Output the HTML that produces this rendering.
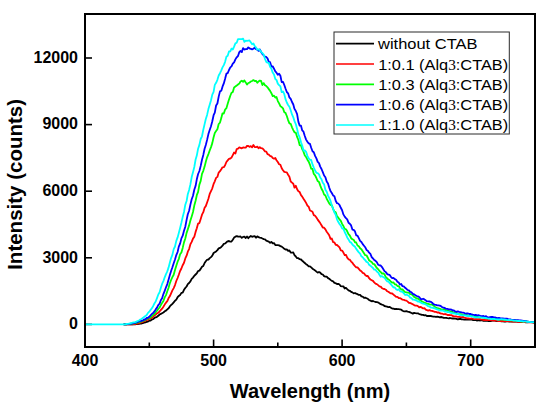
<!DOCTYPE html>
<html><head><meta charset="utf-8"><style>
html,body{margin:0;padding:0;background:#fff;}
body{width:550px;height:409px;overflow:hidden;position:relative;}
svg{position:absolute;left:0;top:0;}
text{font-family:"Liberation Sans",sans-serif;fill:#000;}
</style></head><body>
<svg width="550" height="409" viewBox="0 0 550 409">
<g stroke="#000" stroke-width="1.6" fill="none">
<line x1="86" y1="324.4" x2="92" y2="324.4"/>
<line x1="86" y1="257.8" x2="92" y2="257.8"/>
<line x1="86" y1="191.2" x2="92" y2="191.2"/>
<line x1="86" y1="124.6" x2="92" y2="124.6"/>
<line x1="86" y1="58.0" x2="92" y2="58.0"/>
<line x1="213.6" y1="346" x2="213.6" y2="339.5"/>
<line x1="342.1" y1="346" x2="342.1" y2="339.5"/>
<line x1="470.7" y1="346" x2="470.7" y2="339.5"/>
<line x1="149.3" y1="346" x2="149.3" y2="342.5"/>
<line x1="277.8" y1="346" x2="277.8" y2="342.5"/>
<line x1="406.4" y1="346" x2="406.4" y2="342.5"/>
</g>
<g fill="none" stroke-width="1.8" stroke-linejoin="round" stroke-linecap="butt">
<path d="M123.6,324.4 124.9,324.4 126.1,324.4 127.4,324.4 128.7,324.4 130.0,324.4 131.3,324.4 132.6,324.4 133.8,324.4 135.1,324.4 136.4,324.2 137.7,324.0 139.0,323.9 140.3,323.7 141.6,323.5 142.8,323.1 144.1,322.7 145.4,322.3 146.7,321.9 148.0,321.6 149.3,320.7 150.6,320.5 151.8,319.5 153.1,319.2 154.4,318.0 155.7,317.3 157.0,316.8 158.3,315.8 159.6,314.5 160.8,313.9 162.1,313.2 163.4,312.5 164.7,311.3 166.0,310.6 167.3,309.4 168.6,308.3 169.8,306.4 171.1,305.0 172.4,303.8 173.7,302.4 175.0,300.7 176.3,299.6 177.6,297.2 178.8,296.0 180.1,295.1 181.4,292.9 182.7,292.7 184.0,289.8 185.3,287.9 186.6,286.5 187.8,284.2 189.1,283.0 190.4,281.4 191.7,278.8 193.0,277.6 194.3,275.8 195.6,274.5 196.8,273.3 198.1,271.0 199.4,270.6 200.7,268.9 202.0,266.7 203.3,265.9 204.6,263.0 205.8,261.3 207.1,259.7 208.4,259.6 209.7,258.1 211.0,257.1 212.3,255.7 213.6,253.0 214.8,252.2 216.1,251.4 217.4,250.1 218.7,248.4 220.0,247.9 221.3,247.0 222.5,245.7 223.8,243.9 225.1,243.5 226.4,242.3 227.7,241.3 229.0,241.0 230.3,241.7 231.5,241.5 232.8,239.8 234.1,237.6 235.4,236.7 236.7,236.2 238.0,236.5 239.3,236.7 240.5,236.5 241.8,237.9 243.1,236.9 244.4,236.7 245.7,238.0 247.0,236.5 248.3,238.2 249.5,236.9 250.8,236.0 252.1,236.8 253.4,236.4 254.7,236.1 256.0,237.7 257.3,236.4 258.5,237.1 259.8,237.6 261.1,237.8 262.4,238.5 263.7,239.1 265.0,239.3 266.3,240.7 267.5,241.2 268.8,241.7 270.1,242.9 271.4,241.9 272.7,243.3 274.0,243.1 275.3,245.0 276.5,245.2 277.8,245.2 279.1,245.4 280.4,246.1 281.7,246.6 283.0,247.6 284.3,248.8 285.5,249.6 286.8,249.4 288.1,250.8 289.4,250.5 290.7,252.5 292.0,252.7 293.3,252.5 294.5,255.2 295.8,256.5 297.1,258.2 298.4,258.2 299.7,259.2 301.0,259.5 302.2,260.7 303.5,261.8 304.8,263.0 306.1,264.2 307.4,265.1 308.7,266.3 310.0,266.4 311.2,267.4 312.5,268.7 313.8,269.6 315.1,270.4 316.4,271.6 317.7,272.6 319.0,272.0 320.2,272.6 321.5,274.1 322.8,274.5 324.1,276.1 325.4,276.7 326.7,276.7 328.0,278.1 329.2,278.8 330.5,279.9 331.8,280.9 333.1,281.3 334.4,282.9 335.7,283.2 337.0,284.1 338.2,283.8 339.5,284.5 340.8,286.2 342.1,286.3 343.4,286.3 344.7,288.5 346.0,287.9 347.2,289.1 348.5,290.3 349.8,290.8 351.1,291.9 352.4,292.4 353.7,293.4 355.0,293.0 356.2,293.7 357.5,294.2 358.8,294.9 360.1,294.8 361.4,296.4 362.7,296.7 364.0,297.9 365.2,297.6 366.5,298.2 367.8,298.8 369.1,300.0 370.4,300.6 371.7,301.3 373.0,301.0 374.2,301.5 375.5,302.0 376.8,302.2 378.1,302.4 379.4,303.2 380.7,304.2 382.0,304.7 383.2,305.0 384.5,306.0 385.8,306.3 387.1,306.6 388.4,307.2 389.7,306.9 390.9,307.8 392.2,308.6 393.5,308.6 394.8,309.1 396.1,308.8 397.4,309.2 398.7,309.2 399.9,309.3 401.2,309.6 402.5,310.7 403.8,311.3 405.1,311.4 406.4,311.2 407.7,311.6 408.9,311.9 410.2,312.4 411.5,313.0 412.8,313.6 414.1,312.9 415.4,313.2 416.7,313.3 417.9,313.3 419.2,314.1 420.5,314.3 421.8,314.8 423.1,314.8 424.4,315.3 425.7,315.1 426.9,316.0 428.2,315.9 429.5,316.0 430.8,316.0 432.1,316.3 433.4,316.6 434.7,316.6 435.9,316.9 437.2,316.7 438.5,316.9 439.8,317.3 441.1,317.0 442.4,317.3 443.7,317.8 444.9,317.8 446.2,317.9 447.5,318.2 448.8,318.3 450.1,318.0 451.4,318.4 452.7,318.5 453.9,318.5 455.2,318.6 456.5,318.8 457.8,319.3 459.1,319.0 460.4,318.9 461.7,319.4 462.9,319.4 464.2,319.6 465.5,319.5 466.8,319.7 468.1,319.6 469.4,319.7 470.7,319.5 471.9,319.7 473.2,320.2 474.5,320.2 475.8,320.2 477.1,320.5 478.4,320.2 479.6,320.5 480.9,320.3 482.2,320.4 483.5,320.8 484.8,320.8 486.1,320.8 487.4,320.9 488.6,321.1 489.9,320.8 491.2,321.0 492.5,320.6 493.8,320.6 495.1,320.6 496.4,321.1 497.6,321.0 498.9,321.1 500.2,321.2 501.5,321.3 502.8,321.2 504.1,321.5 505.4,321.6 506.6,321.4 507.9,321.4 509.2,321.5 510.5,321.7 511.8,321.4 513.1,321.7 514.4,321.6 515.6,321.7 516.9,321.6 518.2,321.9 519.5,321.9 520.8,321.7 522.1,321.8 523.4,322.2 524.6,322.1 525.9,322.3 527.2,322.4 528.5,322.1 529.8,322.2 531.1,322.2 532.4,322.4 533.6,322.5 534.9,322.6" stroke="#000000"/>
<path d="M123.6,324.4 124.9,324.4 126.1,324.4 127.4,324.4 128.7,324.4 130.0,324.4 131.3,324.4 132.6,324.3 133.8,324.2 135.1,324.0 136.4,323.7 137.7,323.5 139.0,323.2 140.3,322.6 141.6,322.3 142.8,321.9 144.1,321.3 145.4,320.7 146.7,320.1 148.0,319.7 149.3,318.7 150.6,318.4 151.8,317.9 153.1,316.9 154.4,315.4 155.7,314.5 157.0,313.4 158.3,312.8 159.6,311.3 160.8,310.0 162.1,308.7 163.4,306.8 164.7,304.6 166.0,302.7 167.3,301.2 168.6,298.1 169.8,296.3 171.1,293.3 172.4,290.4 173.7,288.1 175.0,285.1 176.3,281.0 177.6,278.0 178.8,274.8 180.1,271.0 181.4,268.5 182.7,265.2 184.0,262.8 185.3,258.4 186.6,255.7 187.8,251.7 189.1,249.1 190.4,244.2 191.7,241.9 193.0,238.6 194.3,236.8 195.6,231.9 196.8,228.2 198.1,223.6 199.4,223.1 200.7,218.9 202.0,214.7 203.3,212.2 204.6,207.7 205.8,206.1 207.1,202.5 208.4,198.7 209.7,193.9 211.0,191.1 212.3,188.3 213.6,183.9 214.8,181.3 216.1,177.9 217.4,176.9 218.7,172.6 220.0,171.2 221.3,169.3 222.5,167.3 223.8,167.2 225.1,165.2 226.4,162.0 227.7,160.4 229.0,158.8 230.3,158.5 231.5,157.6 232.8,155.1 234.1,152.5 235.4,153.5 236.7,149.1 238.0,148.7 239.3,147.4 240.5,147.8 241.8,148.3 243.1,147.4 244.4,147.7 245.7,147.7 247.0,145.9 248.3,146.0 249.5,146.9 250.8,146.1 252.1,147.4 253.4,145.0 254.7,147.0 256.0,147.2 257.3,146.6 258.5,148.3 259.8,147.1 261.1,148.2 262.4,148.4 263.7,149.7 265.0,151.4 266.3,151.6 267.5,154.2 268.8,154.6 270.1,156.0 271.4,156.3 272.7,158.0 274.0,158.7 275.3,158.0 276.5,160.2 277.8,162.0 279.1,164.2 280.4,164.8 281.7,168.2 283.0,170.3 284.3,171.9 285.5,172.2 286.8,172.4 288.1,174.8 289.4,176.8 290.7,181.5 292.0,182.6 293.3,183.7 294.5,187.7 295.8,185.8 297.1,189.3 298.4,191.3 299.7,192.1 301.0,195.2 302.2,196.6 303.5,198.8 304.8,200.8 306.1,202.9 307.4,205.6 308.7,206.7 310.0,210.5 311.2,211.0 312.5,211.7 313.8,215.1 315.1,215.8 316.4,217.5 317.7,219.6 319.0,221.4 320.2,223.1 321.5,225.2 322.8,227.5 324.1,227.7 325.4,229.4 326.7,231.8 328.0,233.5 329.2,235.3 330.5,238.9 331.8,238.5 333.1,242.1 334.4,242.4 335.7,244.8 337.0,245.0 338.2,246.1 339.5,247.4 340.8,250.3 342.1,250.6 343.4,252.6 344.7,255.2 346.0,254.9 347.2,257.6 348.5,259.3 349.8,259.7 351.1,261.6 352.4,262.7 353.7,264.7 355.0,266.1 356.2,267.3 357.5,267.4 358.8,268.9 360.1,270.4 361.4,271.3 362.7,272.9 364.0,273.3 365.2,275.1 366.5,276.0 367.8,276.0 369.1,278.2 370.4,279.5 371.7,280.2 373.0,280.9 374.2,282.4 375.5,283.6 376.8,284.1 378.1,285.1 379.4,286.3 380.7,286.7 382.0,288.2 383.2,288.8 384.5,289.0 385.8,289.7 387.1,291.2 388.4,291.8 389.7,292.7 390.9,293.4 392.2,293.5 393.5,294.6 394.8,295.7 396.1,296.9 397.4,296.8 398.7,298.0 399.9,298.1 401.2,298.8 402.5,299.7 403.8,299.8 405.1,300.4 406.4,300.6 407.7,301.6 408.9,302.9 410.2,303.0 411.5,303.6 412.8,304.2 414.1,305.1 415.4,305.7 416.7,305.7 417.9,306.1 419.2,307.3 420.5,306.9 421.8,307.6 423.1,308.4 424.4,308.2 425.7,309.7 426.9,310.1 428.2,310.6 429.5,310.1 430.8,310.8 432.1,310.8 433.4,311.3 434.7,311.9 435.9,311.9 437.2,312.5 438.5,312.3 439.8,313.2 441.1,313.7 442.4,313.7 443.7,314.3 444.9,314.0 446.2,314.3 447.5,315.1 448.8,314.9 450.1,315.2 451.4,315.1 452.7,316.0 453.9,316.2 455.2,316.3 456.5,316.5 457.8,316.9 459.1,316.9 460.4,317.1 461.7,317.2 462.9,316.9 464.2,317.5 465.5,318.0 466.8,318.3 468.1,318.3 469.4,318.6 470.7,318.7 471.9,318.5 473.2,318.9 474.5,319.1 475.8,319.0 477.1,319.2 478.4,319.2 479.6,319.1 480.9,319.4 482.2,319.6 483.5,320.0 484.8,319.9 486.1,320.1 487.4,319.9 488.6,320.2 489.9,320.1 491.2,320.3 492.5,320.4 493.8,320.5 495.1,320.7 496.4,320.6 497.6,320.8 498.9,321.2 500.2,321.2 501.5,321.0 502.8,320.9 504.1,321.1 505.4,321.2 506.6,321.1 507.9,321.2 509.2,321.2 510.5,321.2 511.8,321.3 513.1,321.6 514.4,321.4 515.6,321.5 516.9,321.5 518.2,321.8 519.5,321.9 520.8,321.9 522.1,321.9 523.4,322.2 524.6,322.1 525.9,322.2 527.2,322.2 528.5,322.3 529.8,322.3 531.1,322.3 532.4,322.4 533.6,322.3 534.9,322.4" stroke="#ff0000"/>
<path d="M123.6,324.4 124.9,324.4 126.1,324.3 127.4,324.2 128.7,324.1 130.0,324.0 131.3,323.8 132.6,323.6 133.8,323.3 135.1,323.0 136.4,323.0 137.7,322.5 139.0,322.1 140.3,321.8 141.6,321.4 142.8,321.0 144.1,320.3 145.4,319.8 146.7,319.1 148.0,318.5 149.3,317.9 150.6,317.4 151.8,316.1 153.1,314.9 154.4,314.1 155.7,312.3 157.0,310.7 158.3,308.9 159.6,307.5 160.8,305.2 162.1,302.9 163.4,301.0 164.7,297.4 166.0,295.1 167.3,291.2 168.6,287.8 169.8,283.3 171.1,280.0 172.4,277.1 173.7,274.8 175.0,270.0 176.3,265.7 177.6,261.7 178.8,259.1 180.1,254.3 181.4,252.5 182.7,247.9 184.0,242.4 185.3,238.5 186.6,232.9 187.8,229.4 189.1,225.4 190.4,220.5 191.7,216.4 193.0,212.0 194.3,205.6 195.6,200.7 196.8,195.2 198.1,191.9 199.4,184.6 200.7,180.9 202.0,173.9 203.3,170.8 204.6,166.6 205.8,161.8 207.1,157.3 208.4,154.1 209.7,150.5 211.0,147.1 212.3,143.1 213.6,137.2 214.8,133.0 216.1,131.1 217.4,129.2 218.7,124.0 220.0,122.6 221.3,118.1 222.5,113.3 223.8,113.5 225.1,109.6 226.4,108.2 227.7,103.7 229.0,99.6 230.3,95.8 231.5,92.7 232.8,92.1 234.1,87.4 235.4,86.5 236.7,85.6 238.0,84.5 239.3,83.6 240.5,81.5 241.8,80.7 243.1,81.8 244.4,80.5 245.7,82.4 247.0,84.6 248.3,83.0 249.5,82.7 250.8,81.5 252.1,81.0 253.4,80.1 254.7,81.0 256.0,80.8 257.3,82.8 258.5,81.5 259.8,80.6 261.1,80.9 262.4,85.1 263.7,83.1 265.0,85.2 266.3,86.0 267.5,87.3 268.8,89.1 270.1,90.9 271.4,93.2 272.7,96.1 274.0,95.7 275.3,97.6 276.5,97.0 277.8,101.1 279.1,103.4 280.4,106.2 281.7,107.1 283.0,108.4 284.3,112.3 285.5,112.9 286.8,116.0 288.1,120.1 289.4,123.4 290.7,123.9 292.0,127.3 293.3,130.1 294.5,132.3 295.8,132.7 297.1,136.9 298.4,140.0 299.7,145.2 301.0,145.5 302.2,149.0 303.5,151.7 304.8,155.5 306.1,157.0 307.4,159.7 308.7,161.7 310.0,164.8 311.2,168.7 312.5,169.0 313.8,173.9 315.1,175.3 316.4,178.0 317.7,181.1 319.0,181.9 320.2,185.4 321.5,188.8 322.8,191.0 324.1,194.5 325.4,195.5 326.7,198.7 328.0,201.1 329.2,203.4 330.5,204.9 331.8,205.3 333.1,208.9 334.4,211.6 335.7,212.3 337.0,216.3 338.2,217.5 339.5,219.4 340.8,220.9 342.1,223.9 343.4,226.0 344.7,228.9 346.0,229.3 347.2,231.3 348.5,234.2 349.8,235.5 351.1,238.2 352.4,239.3 353.7,239.9 355.0,242.3 356.2,242.5 357.5,245.5 358.8,246.2 360.1,248.3 361.4,249.2 362.7,251.2 364.0,253.3 365.2,255.2 366.5,255.3 367.8,257.7 369.1,260.3 370.4,261.4 371.7,262.0 373.0,263.9 374.2,264.1 375.5,265.9 376.8,267.9 378.1,269.2 379.4,270.8 380.7,272.0 382.0,273.6 383.2,273.3 384.5,274.4 385.8,277.2 387.1,278.3 388.4,279.5 389.7,280.2 390.9,281.7 392.2,282.7 393.5,282.5 394.8,284.3 396.1,284.5 397.4,286.0 398.7,286.1 399.9,288.0 401.2,289.5 402.5,289.4 403.8,291.0 405.1,292.2 406.4,292.3 407.7,292.7 408.9,292.7 410.2,294.2 411.5,294.4 412.8,295.4 414.1,296.9 415.4,297.5 416.7,298.7 417.9,298.3 419.2,299.8 420.5,300.5 421.8,301.4 423.1,302.0 424.4,302.7 425.7,303.1 426.9,303.9 428.2,303.8 429.5,304.4 430.8,304.6 432.1,304.5 433.4,305.4 434.7,306.7 435.9,307.6 437.2,308.2 438.5,308.4 439.8,308.8 441.1,309.3 442.4,309.8 443.7,309.4 444.9,309.9 446.2,310.4 447.5,310.6 448.8,311.0 450.1,311.6 451.4,311.4 452.7,312.1 453.9,312.6 455.2,312.9 456.5,313.0 457.8,313.8 459.1,314.2 460.4,314.1 461.7,314.4 462.9,315.1 464.2,315.0 465.5,315.2 466.8,315.2 468.1,315.7 469.4,315.4 470.7,315.5 471.9,315.8 473.2,315.9 474.5,316.6 475.8,316.5 477.1,316.8 478.4,317.1 479.6,317.4 480.9,317.4 482.2,317.3 483.5,317.5 484.8,317.8 486.1,317.7 487.4,318.4 488.6,318.0 489.9,318.2 491.2,318.6 492.5,318.7 493.8,319.0 495.1,318.8 496.4,318.9 497.6,319.3 498.9,319.6 500.2,319.4 501.5,319.3 502.8,319.5 504.1,319.6 505.4,319.9 506.6,320.0 507.9,320.2 509.2,320.1 510.5,320.4 511.8,320.1 513.1,320.4 514.4,320.4 515.6,320.6 516.9,320.6 518.2,320.9 519.5,320.8 520.8,321.4 522.1,321.5 523.4,321.4 524.6,321.2 525.9,321.4 527.2,321.6 528.5,321.9 529.8,321.9 531.1,322.0 532.4,322.0 533.6,322.2 534.9,322.5" stroke="#00ff00"/>
<path d="M123.6,324.4 124.9,324.4 126.1,324.3 127.4,324.1 128.7,323.9 130.0,323.8 131.3,323.6 132.6,323.5 133.8,323.1 135.1,322.9 136.4,322.3 137.7,322.0 139.0,321.5 140.3,321.1 141.6,320.8 142.8,320.5 144.1,319.5 145.4,319.3 146.7,318.0 148.0,317.8 149.3,316.8 150.6,315.3 151.8,314.0 153.1,313.1 154.4,311.4 155.7,309.4 157.0,307.6 158.3,305.0 159.6,303.6 160.8,300.3 162.1,298.2 163.4,294.1 164.7,290.8 166.0,287.3 167.3,284.1 168.6,279.4 169.8,275.3 171.1,271.0 172.4,267.3 173.7,263.2 175.0,259.5 176.3,255.1 177.6,252.0 178.8,246.6 180.1,243.6 181.4,238.4 182.7,235.7 184.0,230.7 185.3,226.7 186.6,219.9 187.8,214.2 189.1,210.7 190.4,204.6 191.7,199.2 193.0,195.8 194.3,189.7 195.6,185.8 196.8,179.3 198.1,174.0 199.4,171.0 200.7,165.9 202.0,159.7 203.3,154.9 204.6,148.8 205.8,145.0 207.1,139.9 208.4,134.1 209.7,130.0 211.0,126.3 212.3,121.3 213.6,115.2 214.8,112.6 216.1,105.5 217.4,103.5 218.7,96.6 220.0,91.4 221.3,90.8 222.5,86.7 223.8,83.4 225.1,78.8 226.4,73.7 227.7,73.2 229.0,70.0 230.3,67.4 231.5,66.4 232.8,63.6 234.1,62.3 235.4,59.4 236.7,57.3 238.0,56.0 239.3,52.1 240.5,50.9 241.8,52.1 243.1,48.1 244.4,49.5 245.7,49.2 247.0,49.1 248.3,47.4 249.5,48.3 250.8,48.8 252.1,49.4 253.4,48.8 254.7,47.7 256.0,49.1 257.3,49.6 258.5,50.8 259.8,49.4 261.1,52.0 262.4,54.1 263.7,55.3 265.0,56.7 266.3,57.0 267.5,58.3 268.8,61.9 270.1,62.2 271.4,66.5 272.7,66.3 274.0,68.7 275.3,71.4 276.5,72.7 277.8,74.7 279.1,73.8 280.4,75.8 281.7,82.1 283.0,81.8 284.3,85.0 285.5,88.5 286.8,92.0 288.1,93.3 289.4,97.4 290.7,98.9 292.0,102.0 293.3,104.5 294.5,108.9 295.8,111.0 297.1,114.1 298.4,121.9 299.7,125.6 301.0,125.7 302.2,130.4 303.5,131.7 304.8,136.0 306.1,139.6 307.4,141.7 308.7,143.4 310.0,143.9 311.2,147.8 312.5,151.2 313.8,152.2 315.1,155.9 316.4,158.4 317.7,161.9 319.0,163.1 320.2,166.6 321.5,169.0 322.8,172.1 324.1,175.5 325.4,177.2 326.7,181.5 328.0,183.4 329.2,187.5 330.5,191.1 331.8,193.0 333.1,195.4 334.4,196.2 335.7,200.8 337.0,203.2 338.2,203.5 339.5,205.0 340.8,207.8 342.1,210.2 343.4,214.4 344.7,216.6 346.0,218.2 347.2,219.4 348.5,222.7 349.8,223.7 351.1,225.4 352.4,229.6 353.7,229.9 355.0,231.4 356.2,235.3 357.5,235.7 358.8,238.2 360.1,240.9 361.4,242.0 362.7,244.1 364.0,245.7 365.2,247.2 366.5,249.9 367.8,250.7 369.1,252.7 370.4,253.9 371.7,257.2 373.0,258.5 374.2,259.9 375.5,260.8 376.8,262.1 378.1,264.7 379.4,265.3 380.7,265.5 382.0,267.1 383.2,269.0 384.5,271.1 385.8,272.1 387.1,273.9 388.4,274.7 389.7,274.9 390.9,276.8 392.2,278.1 393.5,278.0 394.8,279.1 396.1,279.7 397.4,281.7 398.7,282.5 399.9,284.5 401.2,284.0 402.5,286.2 403.8,286.4 405.1,287.8 406.4,288.8 407.7,290.0 408.9,290.3 410.2,291.8 411.5,292.4 412.8,293.8 414.1,294.3 415.4,295.2 416.7,296.0 417.9,296.4 419.2,297.0 420.5,298.8 421.8,299.3 423.1,298.7 424.4,299.4 425.7,300.3 426.9,301.4 428.2,301.3 429.5,301.5 430.8,301.8 432.1,302.7 433.4,304.2 434.7,304.7 435.9,304.8 437.2,305.3 438.5,305.3 439.8,305.6 441.1,306.3 442.4,307.4 443.7,307.6 444.9,308.1 446.2,308.9 447.5,308.9 448.8,309.5 450.1,309.5 451.4,309.6 452.7,310.5 453.9,310.4 455.2,311.5 456.5,311.8 457.8,311.3 459.1,311.9 460.4,312.1 461.7,312.4 462.9,312.6 464.2,312.9 465.5,313.7 466.8,313.4 468.1,313.5 469.4,314.0 470.7,314.0 471.9,314.5 473.2,314.8 474.5,315.2 475.8,314.9 477.1,315.6 478.4,315.2 479.6,315.5 480.9,316.2 482.2,316.2 483.5,316.0 484.8,316.7 486.1,316.2 487.4,317.2 488.6,317.5 489.9,317.1 491.2,317.0 492.5,316.9 493.8,317.3 495.1,317.5 496.4,317.8 497.6,318.2 498.9,317.9 500.2,318.2 501.5,318.4 502.8,318.3 504.1,318.6 505.4,318.6 506.6,318.7 507.9,319.0 509.2,319.5 510.5,319.4 511.8,320.0 513.1,319.8 514.4,319.8 515.6,320.0 516.9,320.1 518.2,320.2 519.5,320.4 520.8,320.5 522.1,320.6 523.4,320.9 524.6,321.0 525.9,321.2 527.2,321.5 528.5,321.6 529.8,322.0 531.1,322.0 532.4,322.1 533.6,322.1 534.9,322.4" stroke="#0000ff"/>
<path d="M85.0,324.4 86.3,324.4 87.6,324.4 88.9,324.4 90.1,324.4 91.4,324.4 92.7,324.4 94.0,324.4 95.3,324.4 96.6,324.4 97.9,324.4 99.1,324.4 100.4,324.4 101.7,324.4 103.0,324.4 104.3,324.4 105.6,324.4 106.9,324.4 108.1,324.4 109.4,324.4 110.7,324.4 112.0,324.4 113.3,324.4 114.6,324.4 115.9,324.4 117.1,324.4 118.4,324.4 119.7,324.4 121.0,324.4 122.3,324.4 123.6,324.3 124.9,324.3 126.1,324.0 127.4,323.8 128.7,323.6 130.0,323.3 131.3,323.0 132.6,322.6 133.8,322.3 135.1,322.1 136.4,321.6 137.7,321.0 139.0,320.5 140.3,319.5 141.6,319.0 142.8,317.9 144.1,317.0 145.4,316.1 146.7,315.0 148.0,312.9 149.3,311.7 150.6,309.8 151.8,308.4 153.1,306.2 154.4,303.5 155.7,301.5 157.0,298.1 158.3,294.5 159.6,292.3 160.8,288.1 162.1,283.9 163.4,281.1 164.7,277.3 166.0,274.2 167.3,271.4 168.6,267.4 169.8,262.8 171.1,258.1 172.4,254.9 173.7,249.1 175.0,246.5 176.3,240.9 177.6,237.4 178.8,232.9 180.1,228.0 181.4,222.8 182.7,216.9 184.0,212.0 185.3,204.7 186.6,201.0 187.8,194.2 189.1,190.0 190.4,184.4 191.7,177.1 193.0,172.2 194.3,167.0 195.6,159.5 196.8,155.6 198.1,148.7 199.4,144.9 200.7,139.0 202.0,136.3 203.3,129.8 204.6,124.1 205.8,119.0 207.1,114.9 208.4,109.1 209.7,104.7 211.0,100.3 212.3,94.6 213.6,91.8 214.8,84.9 216.1,82.8 217.4,79.8 218.7,75.5 220.0,73.2 221.3,70.3 222.5,67.4 223.8,65.1 225.1,61.8 226.4,56.7 227.7,55.7 229.0,51.4 230.3,51.4 231.5,48.6 232.8,49.5 234.1,46.7 235.4,43.4 236.7,42.7 238.0,39.1 239.3,39.1 240.5,39.2 241.8,39.2 243.1,38.7 244.4,41.8 245.7,40.7 247.0,40.9 248.3,40.7 249.5,40.5 250.8,42.2 252.1,44.2 253.4,43.4 254.7,46.0 256.0,47.4 257.3,49.7 258.5,49.3 259.8,49.9 261.1,51.8 262.4,53.1 263.7,54.5 265.0,59.0 266.3,61.9 267.5,62.7 268.8,62.9 270.1,66.8 271.4,68.7 272.7,72.6 274.0,74.5 275.3,79.1 276.5,79.9 277.8,83.6 279.1,85.2 280.4,86.4 281.7,92.2 283.0,91.4 284.3,94.2 285.5,99.1 286.8,102.5 288.1,105.0 289.4,106.7 290.7,110.3 292.0,114.4 293.3,117.3 294.5,121.2 295.8,124.1 297.1,128.9 298.4,134.6 299.7,137.4 301.0,142.3 302.2,145.5 303.5,150.5 304.8,150.4 306.1,151.9 307.4,155.9 308.7,158.4 310.0,159.9 311.2,159.9 312.5,164.4 313.8,167.6 315.1,170.5 316.4,172.8 317.7,173.1 319.0,174.4 320.2,177.5 321.5,179.2 322.8,182.8 324.1,184.4 325.4,189.8 326.7,191.8 328.0,195.6 329.2,197.9 330.5,200.9 331.8,205.2 333.1,208.8 334.4,212.5 335.7,214.8 337.0,219.3 338.2,221.8 339.5,224.0 340.8,225.6 342.1,228.4 343.4,228.9 344.7,232.0 346.0,234.7 347.2,237.4 348.5,239.4 349.8,241.9 351.1,242.6 352.4,244.5 353.7,245.8 355.0,246.8 356.2,248.9 357.5,250.6 358.8,252.4 360.1,253.6 361.4,256.3 362.7,257.3 364.0,259.0 365.2,260.1 366.5,261.9 367.8,262.3 369.1,264.8 370.4,265.8 371.7,266.8 373.0,268.0 374.2,269.7 375.5,269.7 376.8,271.6 378.1,272.4 379.4,274.7 380.7,276.7 382.0,276.1 383.2,277.1 384.5,277.7 385.8,279.6 387.1,281.3 388.4,281.5 389.7,283.2 390.9,284.4 392.2,285.8 393.5,287.3 394.8,287.5 396.1,289.2 397.4,290.0 398.7,289.2 399.9,290.9 401.2,291.7 402.5,291.9 403.8,293.3 405.1,295.0 406.4,294.6 407.7,295.2 408.9,295.9 410.2,297.6 411.5,298.1 412.8,299.6 414.1,299.6 415.4,300.1 416.7,300.6 417.9,301.6 419.2,301.4 420.5,302.5 421.8,303.1 423.1,303.7 424.4,303.9 425.7,304.5 426.9,305.2 428.2,306.2 429.5,306.5 430.8,307.5 432.1,307.7 433.4,308.0 434.7,308.3 435.9,308.8 437.2,309.3 438.5,309.8 439.8,310.6 441.1,310.6 442.4,310.5 443.7,311.0 444.9,311.6 446.2,311.5 447.5,312.1 448.8,312.0 450.1,312.6 451.4,313.1 452.7,313.2 453.9,313.7 455.2,313.7 456.5,314.2 457.8,314.0 459.1,314.6 460.4,315.2 461.7,315.3 462.9,315.4 464.2,315.3 465.5,315.6 466.8,316.0 468.1,316.0 469.4,316.2 470.7,316.2 471.9,316.6 473.2,316.5 474.5,317.4 475.8,317.5 477.1,317.4 478.4,317.4 479.6,317.2 480.9,317.4 482.2,317.6 483.5,317.7 484.8,317.8 486.1,318.0 487.4,318.4 488.6,318.6 489.9,318.7 491.2,319.1 492.5,318.9 493.8,318.8 495.1,319.2 496.4,319.3 497.6,319.5 498.9,319.5 500.2,319.4 501.5,319.2 502.8,319.4 504.1,319.5 505.4,319.6 506.6,319.9 507.9,320.1 509.2,319.8 510.5,320.1 511.8,320.1 513.1,320.5 514.4,320.6 515.6,320.6 516.9,320.8 518.2,321.0 519.5,321.0 520.8,321.2 522.1,321.2 523.4,321.5 524.6,321.3 525.9,321.4 527.2,321.8 528.5,321.8 529.8,321.9 531.1,322.1 532.4,322.1 533.6,322.2 534.9,322.4" stroke="#00ffff"/>
</g>
<rect x="85" y="14" width="450" height="333" fill="none" stroke="#000" stroke-width="2"/>
<g font-size="16" font-weight="bold">
<text x="78" y="329.2" text-anchor="end">0</text><text x="78" y="262.6" text-anchor="end">3000</text><text x="78" y="196.0" text-anchor="end">6000</text><text x="78" y="129.4" text-anchor="end">9000</text><text x="78" y="62.8" text-anchor="end">12000</text>
<text x="85.0" y="366" text-anchor="middle">400</text><text x="213.6" y="366" text-anchor="middle">500</text><text x="342.1" y="366" text-anchor="middle">600</text><text x="470.7" y="366" text-anchor="middle">700</text>
</g>
<text x="310" y="397.5" font-size="20" font-weight="bold" text-anchor="middle">Wavelength (nm)</text>
<text transform="translate(22.4,184.4) rotate(-90)" font-size="20.5" font-weight="bold" text-anchor="middle">Intensity (counts)</text>
<rect x="334" y="32" width="175.3" height="102" fill="#fff" stroke="#2a2a2a" stroke-width="1"/>
<g font-size="15.5">
<line x1="336" y1="43.6" x2="374" y2="43.6" stroke="#000000" stroke-width="1.7"/>
<text x="378" y="48.8" textLength="99.5" lengthAdjust="spacingAndGlyphs">without CTAB</text>
<line x1="336" y1="64.0" x2="374" y2="64.0" stroke="#ff0000" stroke-width="1.7"/>
<text x="378.2" y="69.8" textLength="130" lengthAdjust="spacingAndGlyphs">1:0.1 (Alq<tspan font-family="Liberation Serif" font-size="14.5">3</tspan>:CTAB)</text>
<line x1="336" y1="84.3" x2="374" y2="84.3" stroke="#00ff00" stroke-width="1.7"/>
<text x="378.2" y="89.7" textLength="130" lengthAdjust="spacingAndGlyphs">1:0.3 (Alq<tspan font-family="Liberation Serif" font-size="14.5">3</tspan>:CTAB)</text>
<line x1="336" y1="104.7" x2="374" y2="104.7" stroke="#0000ff" stroke-width="1.7"/>
<text x="378.2" y="109.7" textLength="130" lengthAdjust="spacingAndGlyphs">1:0.6 (Alq<tspan font-family="Liberation Serif" font-size="14.5">3</tspan>:CTAB)</text>
<line x1="336" y1="125.0" x2="374" y2="125.0" stroke="#00ffff" stroke-width="1.7"/>
<text x="378.2" y="129.8" textLength="130" lengthAdjust="spacingAndGlyphs">1:1.0 (Alq<tspan font-family="Liberation Serif" font-size="14.5">3</tspan>:CTAB)</text>
</g>
</svg>
</body></html>
